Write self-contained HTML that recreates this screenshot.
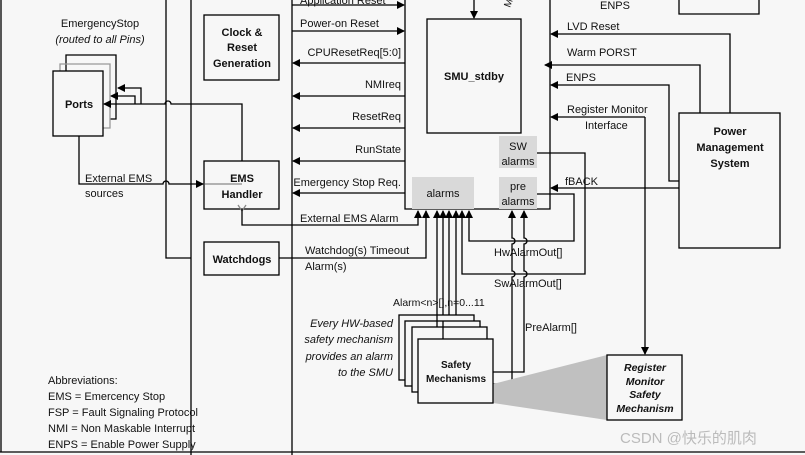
<!DOCTYPE html>
<html><head><style>
html,body{margin:0;padding:0;background:#f7f7f7;}
svg{display:block;font-family:"Liberation Sans",Arial,sans-serif;}
text{fill:#111;}
.b{font-weight:bold;}
</style></head><body>
<svg width="805" height="455" viewBox="0 0 805 455" xmlns="http://www.w3.org/2000/svg" style="font-size:11px">
<defs>
<marker id="a" markerWidth="8" markerHeight="8" refX="7" refY="4" orient="auto" markerUnits="userSpaceOnUse"><path d="M0,0 L8,4 L0,8 Z" fill="#000"/></marker>
</defs>
<rect width="805" height="455" fill="#f7f7f7"/>
<g stroke="#000" stroke-width="1.3" fill="none">
<line x1="1" y1="0" x2="1" y2="452"/>
<line x1="0" y1="452" x2="805" y2="452"/>
<line x1="191" y1="0" x2="191" y2="455"/>
<line x1="292" y1="0" x2="292" y2="455"/>
<polyline points="166,0 166,258 191,258"/>
<polyline points="405,0 405,209 550,209 550,0"/>
<rect x="427" y="19" width="94" height="114"/>
<line x1="474" y1="0" x2="474" y2="18" marker-end="url(#a)"/>
<line x1="292" y1="5" x2="404" y2="5" marker-end="url(#a)"/>
<line x1="292" y1="31" x2="404" y2="31" marker-end="url(#a)"/>
<line x1="405" y1="63" x2="293" y2="63" marker-end="url(#a)"/>
<line x1="405" y1="96" x2="293" y2="96" marker-end="url(#a)"/>
<line x1="405" y1="128" x2="293" y2="128" marker-end="url(#a)"/>
<line x1="405" y1="161" x2="293" y2="161" marker-end="url(#a)"/>
<line x1="405" y1="193" x2="293" y2="193" marker-end="url(#a)"/>
<rect x="204" y="15" width="75" height="65"/>
<rect x="204" y="161" width="75" height="48"/>
<rect x="204" y="242" width="75" height="33"/>
<polyline points="66,71 66,55 116,55 116,119 110,119" />
<polyline points="60,71 60,64 110,64 110,128 103,128" stroke="#999"/>
<rect x="53" y="71" width="50" height="65" fill="#f7f7f7"/>
<path d="M242,161 L242,104 L171,104 A3,3 0 0 0 165,104 L104,104" marker-end="url(#a)"/>
<polyline points="141,104 141,88 118,88" marker-end="url(#a)"/>
<polyline points="135,104 135,96 111,96" marker-end="url(#a)"/>
<path d="M79,136 L79,184 L163,184 A3,3 0 0 1 169,184 L203,184" marker-end="url(#a)"/>
<line x1="205" y1="184" x2="242" y2="184" stroke="#888"/>
<polyline points="238,205 242,211 246,205" stroke="#888"/>
<polyline points="242,209 242,225 418,225 418,211" marker-end="url(#a)"/>
<polyline points="279,258 426,258 426,211" marker-end="url(#a)"/>
<line x1="437" y1="315" x2="437" y2="211" marker-end="url(#a)"/>
<line x1="443" y1="321" x2="443" y2="211" marker-end="url(#a)"/>
<line x1="449" y1="327" x2="449" y2="211" marker-end="url(#a)"/>
<line x1="456" y1="333" x2="456" y2="211" marker-end="url(#a)"/>
<polyline points="536,153 585,153 585,274 462,274 462,211" marker-end="url(#a)"/>
<polyline points="536,194 574,194 574,241 469,241 469,211" marker-end="url(#a)"/>
<path d="M493,384 L512,384 L512,277 A3,3 0 0 0 512,271 L512,244 A3,3 0 0 0 512,238 L512,211" marker-end="url(#a)"/>
<path d="M493,372 L524,372 L524,277 A3,3 0 0 0 524,271 L524,244 A3,3 0 0 0 524,238 L524,211" marker-end="url(#a)"/>
<polyline points="730,113 730,34 551,34" marker-end="url(#a)"/>
<polyline points="700,113 700,65 545,65" marker-end="url(#a)"/>
<polyline points="679,181 669,181 669,85 551,85" marker-end="url(#a)"/>
<polyline points="645,117 551,117" marker-end="url(#a)"/>
<polyline points="645,117 645,354" marker-end="url(#a)"/>
<line x1="679" y1="188" x2="551" y2="188" marker-end="url(#a)"/>
<rect x="679" y="113" width="101" height="135"/>
<polyline points="679,0 679,14 759,14 759,0"/>
</g>
<rect x="412" y="177" width="62" height="32" fill="#d9d9d9"/>
<rect x="499" y="136" width="38" height="32" fill="#d9d9d9"/>
<rect x="499" y="177" width="38" height="32" fill="#d9d9d9"/>
<polygon points="493,384 607,355 607,420 493,403" fill="#c0c0c0"/>
<g stroke="#000" stroke-width="1.3" fill="#f7f7f7">
<rect x="399" y="315" width="75" height="65"/>
<rect x="405" y="321" width="75" height="65"/>
<rect x="412" y="327" width="75" height="65"/>
<rect x="418" y="339" width="75" height="64"/>
<rect x="607" y="355" width="75" height="65"/>
</g>
<g stroke="#000" stroke-width="1.3">
<line x1="437" y1="315" x2="437" y2="327"/><line x1="443" y1="321" x2="443" y2="339"/>
</g>
<text x="100" y="27" text-anchor="middle">EmergencyStop</text>
<text x="100" y="43" text-anchor="middle" font-style="italic">(routed to all Pins)</text>
<text x="79" y="108" text-anchor="middle" class="b">Ports</text>
<text x="85" y="182">External EMS</text>
<text x="85" y="197">sources</text>
<text x="242" y="36" text-anchor="middle" class="b">Clock &amp;</text>
<text x="242" y="51" text-anchor="middle" class="b">Reset</text>
<text x="242" y="67" text-anchor="middle" class="b">Generation</text>
<text x="242" y="182" text-anchor="middle" class="b">EMS</text>
<text x="242" y="198" text-anchor="middle" class="b">Handler</text>
<text x="242" y="263" text-anchor="middle" class="b">Watchdogs</text>
<text x="300" y="4">Application Reset</text>
<text x="300" y="27">Power-on Reset</text>
<text x="401" y="56" text-anchor="end">CPUResetReq[5:0]</text>
<text x="401" y="88" text-anchor="end">NMIreq</text>
<text x="401" y="120" text-anchor="end">ResetReq</text>
<text x="401" y="153" text-anchor="end">RunState</text>
<text x="401" y="186" text-anchor="end">Emergency Stop Req.</text>
<text x="300" y="222">External EMS Alarm</text>
<text x="305" y="254">Watchdog(s) Timeout</text>
<text x="305" y="270">Alarm(s)</text>
<text x="474" y="80" text-anchor="middle" class="b">SMU_stdby</text>
<text x="443" y="197" text-anchor="middle">alarms</text>
<text x="518" y="150" text-anchor="middle">SW</text>
<text x="518" y="165" text-anchor="middle">alarms</text>
<text x="518" y="190" text-anchor="middle">pre</text>
<text x="518" y="205" text-anchor="middle">alarms</text>
<text x="600" y="9">ENPS</text>
<text x="567" y="30">LVD Reset</text>
<text x="567" y="56">Warm PORST</text>
<text x="566" y="81">ENPS</text>
<text x="567" y="113">Register Monitor</text>
<text x="585" y="129">Interface</text>
<text x="565" y="185">fBACK</text>
<text x="730" y="135" text-anchor="middle" class="b">Power</text>
<text x="730" y="151" text-anchor="middle" class="b">Management</text>
<text x="730" y="167" text-anchor="middle" class="b">System</text>
<text x="494" y="256">HwAlarmOut[]</text>
<text x="494" y="287">SwAlarmOut[]</text>
<text x="393" y="306" style="font-size:10.5px">Alarm&lt;n&gt;[],n=0...11</text>
<text x="525" y="331">PreAlarm[]</text>
<text x="393" y="327" text-anchor="end" font-style="italic" style="font-size:11px">Every HW-based</text>
<text x="393" y="343" text-anchor="end" font-style="italic" style="font-size:11px">safety mechanism</text>
<text x="393" y="360" text-anchor="end" font-style="italic" style="font-size:11px">provides an alarm</text>
<text x="393" y="376" text-anchor="end" font-style="italic" style="font-size:11px">to the SMU</text>
<text x="456" y="368" text-anchor="middle" class="b" style="font-size:10px">Safety</text>
<text x="456" y="382" text-anchor="middle" class="b" style="font-size:10px">Mechanisms</text>
<text x="645" y="371" text-anchor="middle" class="b" font-style="italic" style="font-size:10.5px">Register</text>
<text x="645" y="385" text-anchor="middle" class="b" font-style="italic" style="font-size:10.5px">Monitor</text>
<text x="645" y="398" text-anchor="middle" class="b" font-style="italic" style="font-size:10.5px">Safety</text>
<text x="645" y="412" text-anchor="middle" class="b" font-style="italic" style="font-size:10.5px">Mechanism</text>
<text x="48" y="384">Abbreviations:</text>
<text x="48" y="400">EMS = Emercency Stop</text>
<text x="48" y="416">FSP = Fault Signaling Protocol</text>
<text x="48" y="432">NMI = Non Maskable Interrupt</text>
<text x="48" y="448">ENPS = Enable Power Supply</text>
<text x="620" y="443" style="font-size:15px;fill:#bbb;font-family:'Liberation Sans','Noto Sans CJK SC',sans-serif">CSDN @快乐的肌肉</text>
<text x="510" y="8" style="font-size:10px" transform="rotate(-70 510 8)">M</text>
</svg>
</body></html>
